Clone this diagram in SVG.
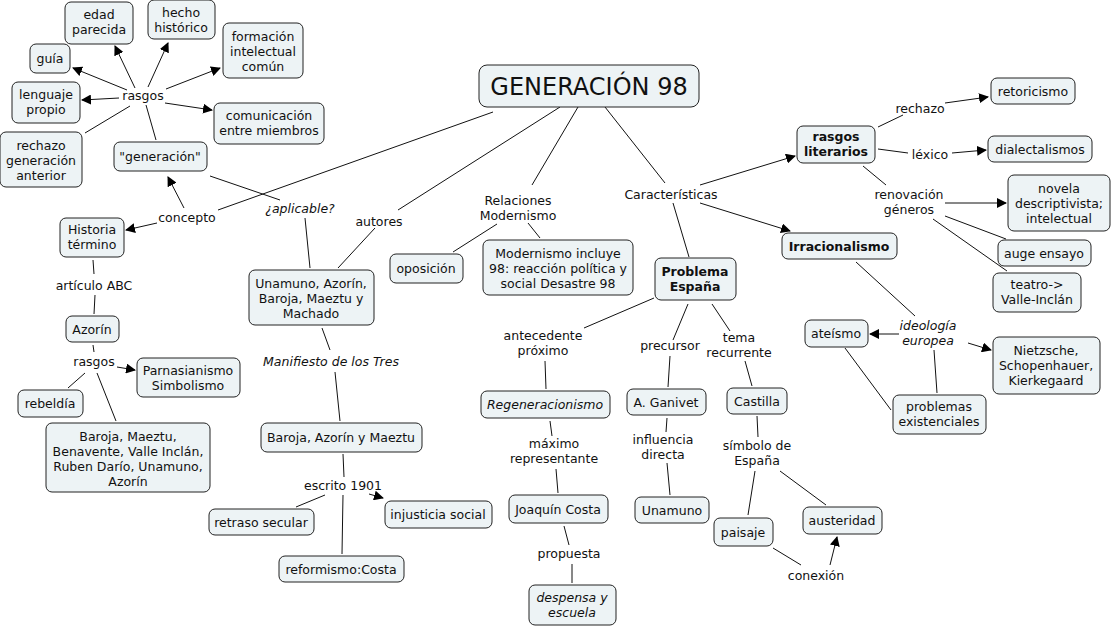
<svg xmlns="http://www.w3.org/2000/svg" width="1113" height="628" viewBox="0 0 1113 628">
<style>
text{font-family:"DejaVu Sans",Verdana,sans-serif;font-size:12.5px;fill:#111;text-anchor:middle}
.n rect{fill:#edf3f5;stroke:#222;stroke-width:1}
.b{font-weight:bold}.i{font-style:italic}
#c line{stroke:#111;stroke-width:1}
#c .a{marker-end:url(#ar)}
</style>
<defs><marker id="ar" viewBox="0 0 10 10" refX="9" refY="5" markerWidth="10" markerHeight="10" markerUnits="userSpaceOnUse" orient="auto"><path d="M0,0L10,5L0,10z" fill="#000"/></marker></defs>
<rect width="1113" height="628" fill="#fff"/>
<g id="c">
<line x1="493" y1="112" x2="218" y2="210"/>
<line x1="210" y1="176" x2="280" y2="200"/>
<line x1="305" y1="218" x2="310" y2="268"/>
<line class="a" x1="184" y1="208" x2="168" y2="177"/>
<line class="a" x1="157" y1="223" x2="126" y2="230"/>
<line x1="156" y1="140" x2="146" y2="105"/>
<line class="a" x1="135" y1="88" x2="115" y2="46"/>
<line class="a" x1="148" y1="87" x2="168" y2="43"/>
<line class="a" x1="166" y1="89" x2="220" y2="68"/>
<line class="a" x1="127" y1="90" x2="73" y2="68"/>
<line class="a" x1="119" y1="98" x2="82" y2="100"/>
<line class="a" x1="165" y1="103" x2="212" y2="110"/>
<line x1="130" y1="106" x2="85" y2="133"/>
<line x1="560" y1="107" x2="398" y2="210"/>
<line x1="375" y1="228" x2="338" y2="268"/>
<line x1="578" y1="107" x2="532" y2="185"/>
<line x1="497" y1="224" x2="453" y2="252"/>
<line x1="528" y1="223" x2="540" y2="238"/>
<line x1="605" y1="107" x2="665" y2="183"/>
<line class="a" x1="700" y1="185" x2="795" y2="156"/>
<line class="a" x1="700" y1="203" x2="790" y2="231"/>
<line x1="673" y1="203" x2="689" y2="257"/>
<line x1="93" y1="260" x2="94" y2="274"/>
<line x1="95" y1="295" x2="94" y2="314"/>
<line x1="93" y1="345" x2="94" y2="352"/>
<line class="a" x1="117" y1="367" x2="135" y2="370"/>
<line x1="85" y1="373" x2="68" y2="388"/>
<line x1="97" y1="373" x2="116" y2="421"/>
<line x1="322" y1="328" x2="330" y2="350"/>
<line x1="335" y1="372" x2="340" y2="421"/>
<line x1="343" y1="454" x2="344" y2="477"/>
<line class="a" x1="369" y1="494" x2="383" y2="498"/>
<line x1="325" y1="495" x2="296" y2="507"/>
<line x1="343" y1="495" x2="342" y2="554"/>
<line x1="654" y1="298" x2="584" y2="328"/>
<line x1="545" y1="361" x2="546" y2="389"/>
<line x1="550" y1="421" x2="552" y2="436"/>
<line x1="556" y1="469" x2="558" y2="493"/>
<line x1="564" y1="526" x2="569" y2="545"/>
<line x1="572" y1="564" x2="572" y2="583"/>
<line x1="688" y1="304" x2="673" y2="340"/>
<line x1="670" y1="356" x2="668" y2="387"/>
<line x1="667" y1="418" x2="666" y2="432"/>
<line x1="667" y1="463" x2="670" y2="495"/>
<line x1="712" y1="304" x2="730" y2="331"/>
<line x1="745" y1="361" x2="752" y2="386"/>
<line x1="757" y1="416" x2="758" y2="437"/>
<line x1="755" y1="471" x2="748" y2="515"/>
<line x1="780" y1="471" x2="826" y2="505"/>
<line x1="773" y1="548" x2="801" y2="565"/>
<line class="a" x1="830" y1="565" x2="837" y2="537"/>
<line x1="878" y1="127" x2="903" y2="115"/>
<line class="a" x1="945" y1="103" x2="988" y2="97"/>
<line x1="878" y1="149" x2="908" y2="153"/>
<line class="a" x1="952" y1="153" x2="986" y2="150"/>
<line x1="863" y1="166" x2="886" y2="185"/>
<line class="a" x1="945" y1="203" x2="1006" y2="203"/>
<line x1="945" y1="216" x2="1006" y2="239"/>
<line x1="933" y1="219" x2="1007" y2="271"/>
<line x1="856" y1="262" x2="915" y2="316"/>
<line class="a" x1="899" y1="334" x2="870" y2="334"/>
<line class="a" x1="968" y1="343" x2="991" y2="350"/>
<line x1="934" y1="350" x2="937" y2="393"/>
<line x1="845" y1="348" x2="891" y2="410"/>
</g>
<g id="labels">
<text x="143" y="100">rasgos</text>
<text x="187" y="222">concepto</text>
<text class="i" x="300" y="213">¿aplicable?</text>
<text x="379" y="226">autores</text>
<text x="518" y="205">Relaciones</text><text x="518" y="220">Modernismo</text>
<text x="671" y="199">Características</text>
<text x="920" y="113">rechazo</text>
<text x="930" y="159">léxico</text>
<text x="909" y="199">renovación</text><text x="909" y="214">géneros</text>
<text class="i" x="928" y="330">ideología</text><text class="i" x="928" y="345">europea</text>
<text x="94" y="290">artículo ABC</text>
<text x="94" y="366">rasgos</text>
<text class="i" x="331" y="366">Manifiesto de los Tres</text>
<text x="343" y="490">escrito 1901</text>
<text x="543" y="340">antecedente</text><text x="543" y="355">próximo</text>
<text x="670" y="350">precursor</text>
<text x="739" y="342">tema</text><text x="739" y="357">recurrente</text>
<text x="554" y="448">máximo</text><text x="554" y="463">representante</text>
<text x="663" y="444">influencia</text><text x="663" y="459">directa</text>
<text x="757" y="450">símbolo de</text><text x="757" y="465">España</text>
<text x="569" y="558">propuesta</text>
<text x="816" y="580">conexión</text>
</g>
<g class="n" id="gen"><rect x="479" y="65" width="220" height="42" rx="8"/><text x="589" y="95" style="font-size:24px">GENERACIÓN 98</text></g>
<g class="n" id="edad"><rect x="65" y="2" width="68" height="42" rx="6"/><text x="99" y="19">edad</text><text x="99" y="34">parecida</text></g>
<g class="n" id="hecho"><rect x="148" y="0" width="67" height="39" rx="6"/><text x="181" y="17">hecho</text><text x="181" y="32">histórico</text></g>
<g class="n" id="formacion"><rect x="223" y="23" width="80" height="55" rx="6"/><text x="263" y="41">formación</text><text x="263" y="56">intelectual</text><text x="263" y="71">común</text></g>
<g class="n" id="guia"><rect x="30" y="44" width="40" height="29" rx="6"/><text x="50" y="63">guía</text></g>
<g class="n" id="lenguaje"><rect x="12" y="82" width="68" height="41" rx="6"/><text x="46" y="99">lenguaje</text><text x="46" y="114">propio</text></g>
<g class="n" id="comunicacion"><rect x="214" y="103" width="110" height="41" rx="6"/><text x="269" y="120">comunicación</text><text x="269" y="135">entre miembros</text></g>
<g class="n" id="rechazogen"><rect x="0" y="132" width="82" height="55" rx="6"/><text x="41" y="150">rechazo</text><text x="41" y="165">generación</text><text x="41" y="180">anterior</text></g>
<g class="n" id="generacion"><rect x="114" y="142" width="93" height="29" rx="6"/><text x="160" y="161">"generación"</text></g>
<g class="n" id="historia"><rect x="60" y="218" width="64" height="39" rx="6"/><text x="92" y="234">Historia</text><text x="92" y="249">término</text></g>
<g class="n" id="azorin"><rect x="66" y="316" width="53" height="26" rx="6"/><text x="92" y="334">Azorín</text></g>
<g class="n" id="parnas"><rect x="137" y="358" width="103" height="39" rx="6"/><text x="188" y="375">Parnasianismo</text><text x="188" y="390">Simbolismo</text></g>
<g class="n" id="rebeldia"><rect x="18" y="390" width="65" height="27" rx="6"/><text x="50" y="408">rebeldía</text></g>
<g class="n" id="barojalist"><rect x="46" y="423" width="164" height="69" rx="6"/><text x="128" y="441">Baroja, Maeztu,</text><text x="128" y="456">Benavente, Valle Inclán,</text><text x="128" y="471">Ruben Darío, Unamuno,</text><text x="128" y="486">Azorín</text></g>
<g class="n" id="autoreslist"><rect x="249" y="270" width="125" height="55" rx="6"/><text x="311" y="288">Unamuno, Azorín,</text><text x="311" y="303">Baroja, Maeztu y</text><text x="311" y="318">Machado</text></g>
<g class="n" id="bam"><rect x="261" y="423" width="161" height="29" rx="6"/><text x="341" y="442">Baroja, Azorín y Maeztu</text></g>
<g class="n" id="retraso"><rect x="209" y="509" width="105" height="26" rx="6"/><text x="261" y="527">retraso secular</text></g>
<g class="n" id="reformismo"><rect x="279" y="556" width="125" height="26" rx="6"/><text x="341" y="574">reformismo:Costa</text></g>
<g class="n" id="injusticia"><rect x="385" y="501" width="107" height="27" rx="6"/><text x="438" y="519">injusticia social</text></g>
<g class="n" id="oposicion"><rect x="390" y="254" width="73" height="29" rx="6"/><text x="426" y="273">oposición</text></g>
<g class="n" id="modincl"><rect x="483" y="240" width="150" height="55" rx="6"/><text x="558" y="258">Modernismo incluye</text><text x="558" y="273">98: reacción política y</text><text x="558" y="288">social Desastre 98</text></g>
<g class="n" id="problema"><rect x="655" y="258" width="81" height="42" rx="6"/><text class="b" x="695" y="276">Problema</text><text class="b" x="695" y="291">España</text></g>
<g class="n" id="regen"><rect x="481" y="391" width="129" height="27" rx="6"/><text class="i" x="545" y="409">Regeneracionismo</text></g>
<g class="n" id="ganivet"><rect x="627" y="389" width="79" height="26" rx="6"/><text x="666" y="407">A. Ganivet</text></g>
<g class="n" id="castilla"><rect x="727" y="388" width="60" height="26" rx="6"/><text x="757" y="406">Castilla</text></g>
<g class="n" id="costa"><rect x="509" y="495" width="99" height="28" rx="6"/><text x="558" y="514">Joaquín Costa</text></g>
<g class="n" id="unamuno"><rect x="635" y="497" width="74" height="26" rx="6"/><text x="672" y="515">Unamuno</text></g>
<g class="n" id="paisaje"><rect x="714" y="518" width="59" height="28" rx="6"/><text x="743" y="537">paisaje</text></g>
<g class="n" id="austeridad"><rect x="803" y="507" width="79" height="27" rx="6"/><text x="842" y="525">austeridad</text></g>
<g class="n" id="despensa"><rect x="529" y="585" width="87" height="40" rx="6"/><text class="i" x="572" y="602">despensa y</text><text class="i" x="572" y="617">escuela</text></g>
<g class="n" id="rasgoslit"><rect x="797" y="126" width="78" height="37" rx="6"/><text class="b" x="836" y="141">rasgos</text><text class="b" x="836" y="156">literarios</text></g>
<g class="n" id="retoricismo"><rect x="991" y="78" width="84" height="26" rx="6"/><text x="1033" y="96">retoricismo</text></g>
<g class="n" id="dialect"><rect x="988" y="136" width="104" height="26" rx="6"/><text x="1040" y="154">dialectalismos</text></g>
<g class="n" id="novela"><rect x="1008" y="175" width="102" height="56" rx="6"/><text x="1059" y="193">novela</text><text x="1059" y="208">descriptivista;</text><text x="1059" y="223">intelectual</text></g>
<g class="n" id="irrac"><rect x="782" y="233" width="115" height="26" rx="6"/><text class="b" x="839" y="251">Irracionalismo</text></g>
<g class="n" id="auge"><rect x="998" y="240" width="93" height="26" rx="6"/><text x="1044" y="258">auge ensayo</text></g>
<g class="n" id="teatro"><rect x="993" y="273" width="88" height="39" rx="6"/><text x="1037" y="289">teatro-&gt;</text><text x="1037" y="304">Valle-Inclán</text></g>
<g class="n" id="ateismo"><rect x="805" y="320" width="63" height="27" rx="6"/><text x="836" y="338">ateísmo</text></g>
<g class="n" id="nietzsche"><rect x="993" y="337" width="107" height="57" rx="6"/><text x="1046" y="355">Nietzsche,</text><text x="1046" y="370">Schopenhauer,</text><text x="1046" y="385">Kierkegaard</text></g>
<g class="n" id="problemas"><rect x="893" y="395" width="93" height="39" rx="6"/><text x="939" y="411">problemas</text><text x="939" y="426">existenciales</text></g>
</svg>
